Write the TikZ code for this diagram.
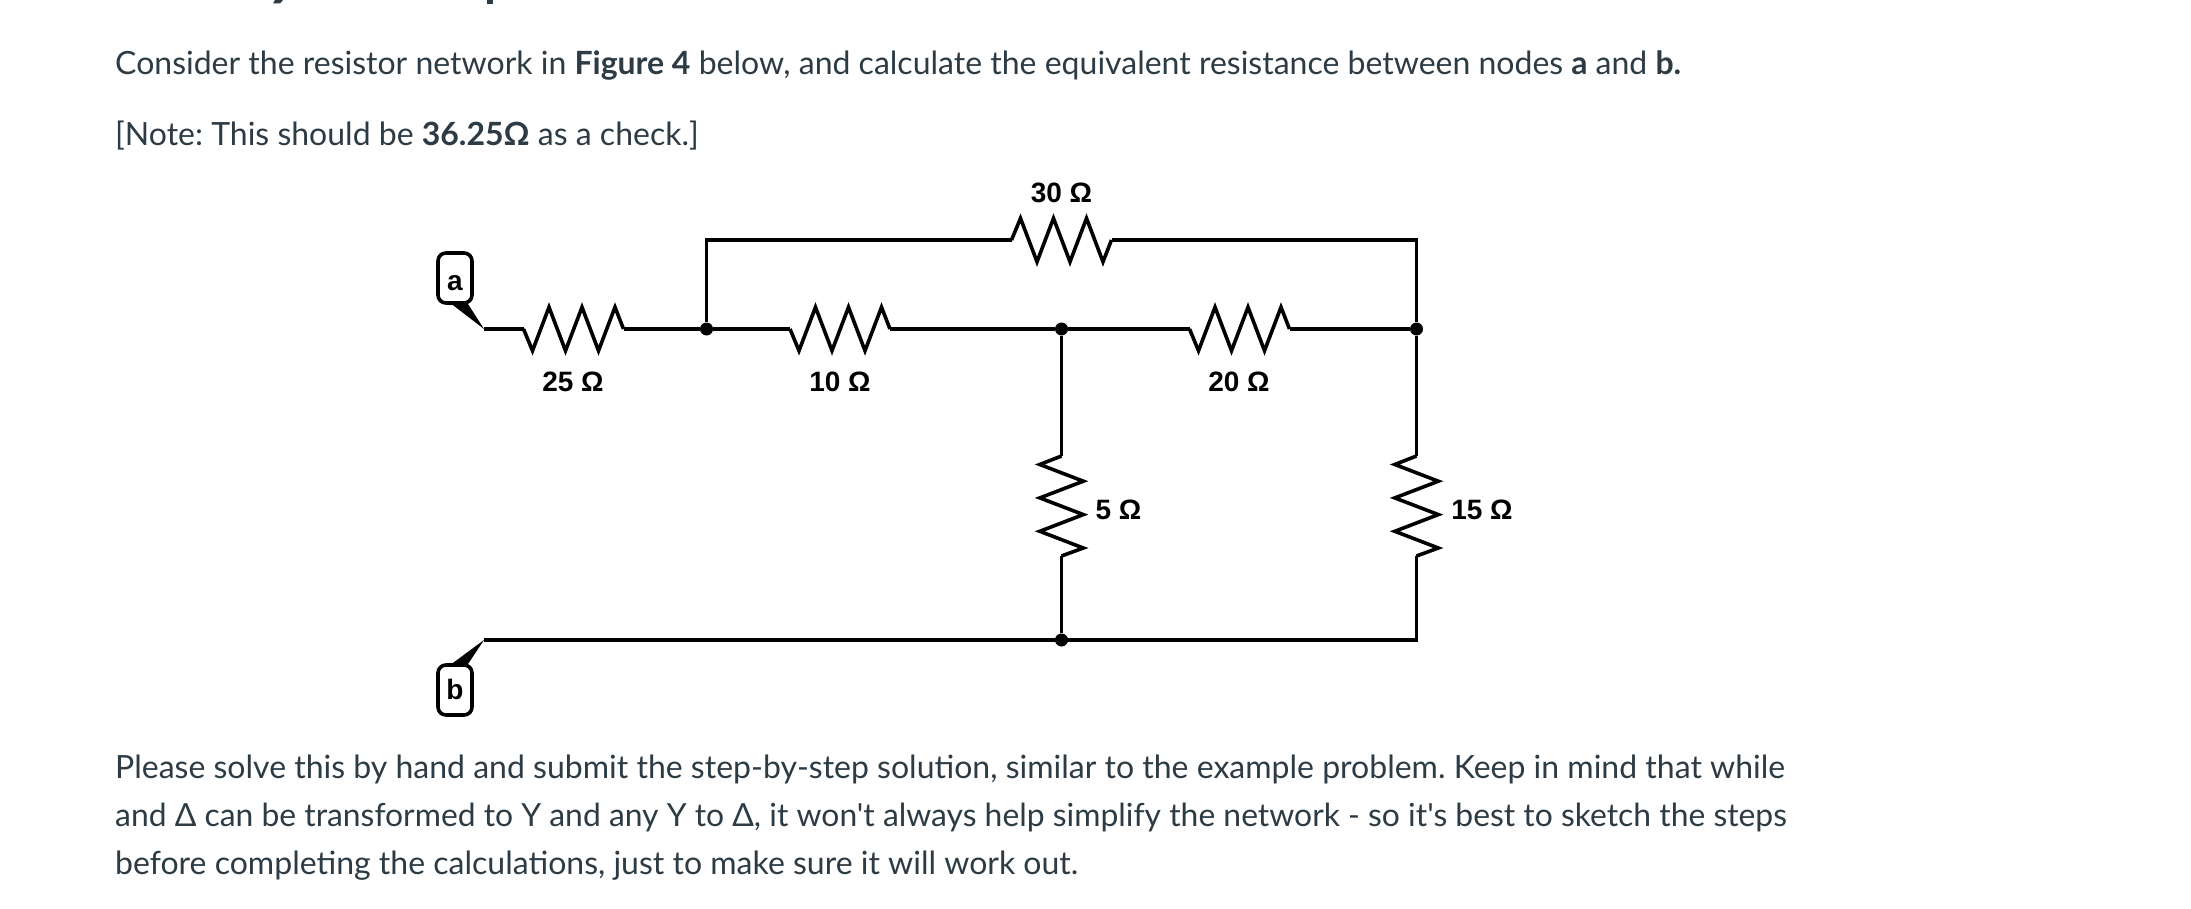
\documentclass[tikz,border=0pt]{standalone}
\usepackage{fontspec}
\setmainfont[Ligatures={TeXOff,Common}]{Lato}
\newfontfamily\arialfont{Liberation Sans}
\definecolor{bodytext}{HTML}{2D3B45}
\frenchspacing
\newcommand{\rzig}[3]{% start, end, sign: horizontal resistor
  \draw[wire] (#1) -- ++(9,#3*21.7) -- ++(16.5,#3*-43.5) -- ++(16.5,#3*43.5) -- ++(16.5,#3*-43.5) -- ++(16.5,#3*43.5) -- ++(16.5,#3*-43.5) -- (#2);}
\newcommand{\vzig}[2]{% start, end: vertical resistor
  \draw[wire] (#1) -- ++(-21.7,8.5) -- ++(43.5,16.7) -- ++(-43.5,16.7) -- ++(43.5,16.7) -- ++(-43.5,16.7) -- ++(43.5,16.7) -- (#2);}
\tikzset{
  wire/.style={line width=3.6pt,black,miter limit=10},
  para/.style={anchor=base west,inner sep=0pt,text=bodytext,font=\fontsize{32}{36}\selectfont\frenchspacing},
  rlabel/.style={inner sep=0pt,font=\arialfont\bfseries\fontsize{28}{30}\selectfont},
  term/.style={draw,line width=3.6pt,rounded corners=8pt,minimum width=34pt,minimum height=50pt,inner sep=0pt,font=\arialfont\bfseries\fontsize{28}{30}\selectfont},
  dot/.style={circle,fill=black,inner sep=0pt,minimum size=13pt}
}
\begin{document}
\begin{tikzpicture}[x=1pt,y=-1pt]
\path[use as bounding box,fill=white] (0,0) rectangle (2191,909);
% cropped heading descenders
\fill[bodytext] (275,0) -- (283,0) -- (280,3.5) -- (273,3.5) -- cycle;
\fill[bodytext] (487,0) rectangle (493,4);
% text
\node[para] (t1) at (115,75) {Consider the resistor network in \textbf{Figure 4} below, and calculate the equivalent resistance between nodes \textbf{a} and \textbf{b.}};
\node[para] (t2) at (115,146) {[Note: This should be \textbf{36.25Ω} as a check.]};
\node[para] (t3) at (115,778) {Please solve this by hand and submit the step-by-step solution, similar to the example problem. Keep in mind that while};
\node[para,font=\fontsize{31.85}{36}\selectfont\frenchspacing] (t4) at (115,826) {and Δ can be transformed to Y and any Y to Δ, it won't always help simplify the network - so it's best to sketch the steps};
\node[para] (t5) at (115,874) {before completing the calculations, just to make sure it will work out.};
% terminals
\node[term] (a) at (455,278) {\smash{\raisebox{-13pt}{a}}};
\node[term] (b) at (455,690) {\smash{\raisebox{-9pt}{b}}};
% junctions
\coordinate (ca) at (484,329);
\coordinate (cb) at (484,640);
\node[dot] (n1) at (706.5,329) {};
\node[dot] (n2) at (1061.5,329) {};
\node[dot] (n3) at (1416.5,329) {};
\node[dot] (n4) at (1061.5,640) {};
\coordinate (tl) at (706.5,240);
\coordinate (tr) at (1416.5,240);
\coordinate (br) at (1416.5,640);
% resistor ends
\coordinate (r25a) at (523.5,329); \coordinate (r25b) at (623.5,329);
\coordinate (r10a) at (790,329);   \coordinate (r10b) at (890,329);
\coordinate (r20a) at (1189.5,329);\coordinate (r20b) at (1289.5,329);
\coordinate (r30a) at (1011.5,240);\coordinate (r30b) at (1111.5,240);
\coordinate (r5a) at (1061.5,456); \coordinate (r5b) at (1061.5,556);
\coordinate (r15a) at (1416.5,456);\coordinate (r15b) at (1416.5,556);
% wedges
\fill (ca) -- (451.5,304) -- (468,304) -- cycle;
\fill (cb) -- (451.5,664) -- (468,664) -- cycle;
% wires
\draw[wire] (ca) -- (r25a);
\rzig{r25a}{r25b}{1}
\draw[wire] (r25b) -- (n1) -- (r10a);
\rzig{r10a}{r10b}{1}
\draw[wire] (r10b) -- (n2) -- (r20a);
\rzig{r20a}{r20b}{1}
\draw[wire] (r20b) -- (n3);
\draw[wire] (n1) -- (tl) -- (r30a);
\rzig{r30a}{r30b}{-1}
\draw[wire] (r30b) -- (tr) -- (n3);
\draw[wire] (n2) -- (r5a);
\vzig{r5a}{r5b}
\draw[wire] (r5b) -- (n4);
\draw[wire] (n3) -- (r15a);
\vzig{r15a}{r15b}
\draw[wire] (r15b) -- (br) -- (cb);
% labels
\node[rlabel] (l25) at (573,382) {25 Ω};
\node[rlabel] (l10) at (840,382) {10 Ω};
\node[rlabel] (l20) at (1239,382) {20 Ω};
\node[rlabel] (l30) at (1061.5,192.5) {30 Ω};
\node[rlabel] (l5) at (1118.5,510) {5 Ω};
\node[rlabel] (l15) at (1482,510) {15 Ω};
\end{tikzpicture}
\end{document}
